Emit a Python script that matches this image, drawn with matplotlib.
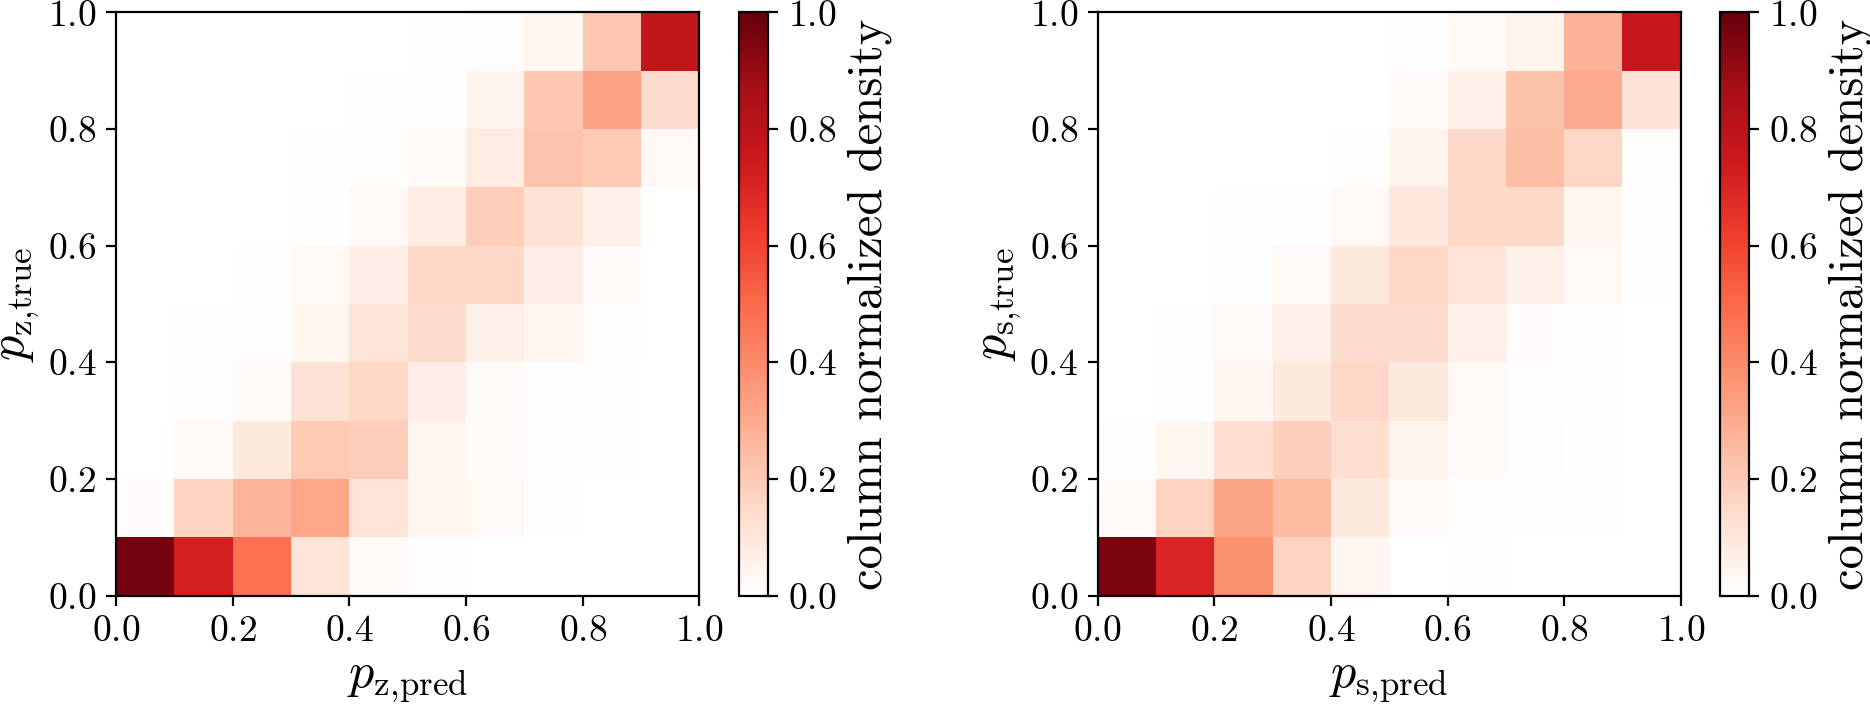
import numpy as np
import matplotlib
matplotlib.use("Agg")
import matplotlib.pyplot as plt
from matplotlib.colors import LinearSegmentedColormap

plt.rcParams['font.family'] = 'serif'
plt.rcParams['font.serif'] = ['cmr10', 'DejaVu Serif']
plt.rcParams['mathtext.fontset'] = 'cm'
plt.rcParams['axes.formatter.use_mathtext'] = True
plt.rcParams['axes.unicode_minus'] = False

# bin edges (0 .. 1 in steps of 0.1)
bin_edges = [0.0, 0.1, 0.2, 0.3, 0.4, 0.5, 0.6, 0.7, 0.8, 0.9, 1.0]
tick_values = [0.0, 0.2, 0.4, 0.6, 0.8, 1.0]

# Left panel (z): rows = p_true bins from bottom (0.0-0.1) to top (0.9-1.0),
# columns = p_pred bins from 0.0-0.1 to 0.9-1.0; column normalized density
z_rows = [
    [0.97, 0.72, 0.48, 0.11, 0.02, 0.010, 0.000, 0.000, 0.000, 0.000],
    [0.015, 0.17, 0.27, 0.31, 0.11, 0.04, 0.03, 0.005, 0.003, 0.002],
    [0.000, 0.03, 0.09, 0.20, 0.19, 0.04, 0.02, 0.010, 0.005, 0.002],
    [0.000, 0.01, 0.02, 0.12, 0.16, 0.07, 0.02, 0.010, 0.005, 0.002],
    [0.000, 0.005, 0.01, 0.04, 0.11, 0.14, 0.06, 0.04, 0.010, 0.003],
    [0.000, 0.000, 0.005, 0.03, 0.07, 0.15, 0.15, 0.07, 0.02, 0.003],
    [0.000, 0.000, 0.002, 0.005, 0.03, 0.08, 0.19, 0.12, 0.06, 0.003],
    [0.000, 0.000, 0.000, 0.005, 0.01, 0.03, 0.08, 0.22, 0.20, 0.03],
    [0.000, 0.000, 0.000, 0.000, 0.005, 0.01, 0.05, 0.21, 0.33, 0.14],
    [0.000, 0.000, 0.000, 0.000, 0.000, 0.005, 0.01, 0.04, 0.21, 0.78],
]

# Right panel (s)
s_rows = [
    [0.96, 0.70, 0.38, 0.17, 0.04, 0.000, 0.005, 0.003, 0.002, 0.000],
    [0.02, 0.17, 0.32, 0.25, 0.09, 0.03, 0.010, 0.005, 0.005, 0.002],
    [0.01, 0.04, 0.13, 0.18, 0.13, 0.05, 0.03, 0.010, 0.005, 0.003],
    [0.000, 0.005, 0.04, 0.09, 0.16, 0.09, 0.03, 0.010, 0.008, 0.003],
    [0.000, 0.01, 0.03, 0.06, 0.14, 0.14, 0.06, 0.015, 0.010, 0.003],
    [0.000, 0.000, 0.005, 0.02, 0.09, 0.16, 0.11, 0.06, 0.03, 0.005],
    [0.000, 0.000, 0.005, 0.005, 0.03, 0.10, 0.15, 0.15, 0.04, 0.005],
    [0.000, 0.000, 0.000, 0.003, 0.01, 0.05, 0.15, 0.24, 0.16, 0.010],
    [0.000, 0.000, 0.000, 0.000, 0.003, 0.02, 0.06, 0.23, 0.30, 0.12],
    [0.000, 0.000, 0.000, 0.000, 0.000, 0.005, 0.02, 0.05, 0.28, 0.76],
]

x_labels = [r'$p_{\mathrm{z{,}pred}}$', r'$p_{\mathrm{s{,}pred}}$']
y_labels = [r'$p_{\mathrm{z{,}true}}$', r'$p_{\mathrm{s{,}true}}$']
cbar_label = 'column normalized density'

# Reds colormap that starts from pure white
reds = plt.get_cmap('Reds')
stops = [0.0] + list(np.linspace(0.12, 1.0, 30))
cols = [(1.0, 1.0, 1.0, 1.0)] + [reds(v) for v in np.linspace(0.12, 1.0, 30)]
cmap = LinearSegmentedColormap.from_list('white_reds', list(zip(stops, cols)), N=256)

fig = plt.figure(figsize=(9.35, 3.53), dpi=200)

ax_pos = [[0.0620, 0.1565, 0.3120, 0.8258], [0.5870, 0.1565, 0.3118, 0.8258]]
cb_pos = [[0.3952, 0.1565, 0.0157, 0.8258], [0.9198, 0.1565, 0.0157, 0.8258]]

for data, xl, yl, ap, cp in zip([z_rows, s_rows], x_labels, y_labels, ax_pos, cb_pos):
    ax = fig.add_axes(ap)
    Z = np.array(data)
    mesh = ax.pcolormesh(bin_edges, bin_edges, Z, cmap=cmap, vmin=0, vmax=1,
                         shading='flat')
    ax.set_xlim(0, 1)
    ax.set_ylim(0, 1)
    ax.set_xticks(tick_values)
    ax.set_yticks(tick_values)
    ax.tick_params(labelsize=13.5)
    ax.set_xlabel(xl, fontsize=18)
    ax.set_ylabel(yl, fontsize=18, labelpad=2)
    cax = fig.add_axes(cp)
    cb = fig.colorbar(mesh, cax=cax)
    cb.set_ticks(tick_values)
    cb.ax.tick_params(labelsize=13.5)
    cb.set_label(cbar_label, fontsize=17.5)

fig.savefig('out.png', dpi=200)
